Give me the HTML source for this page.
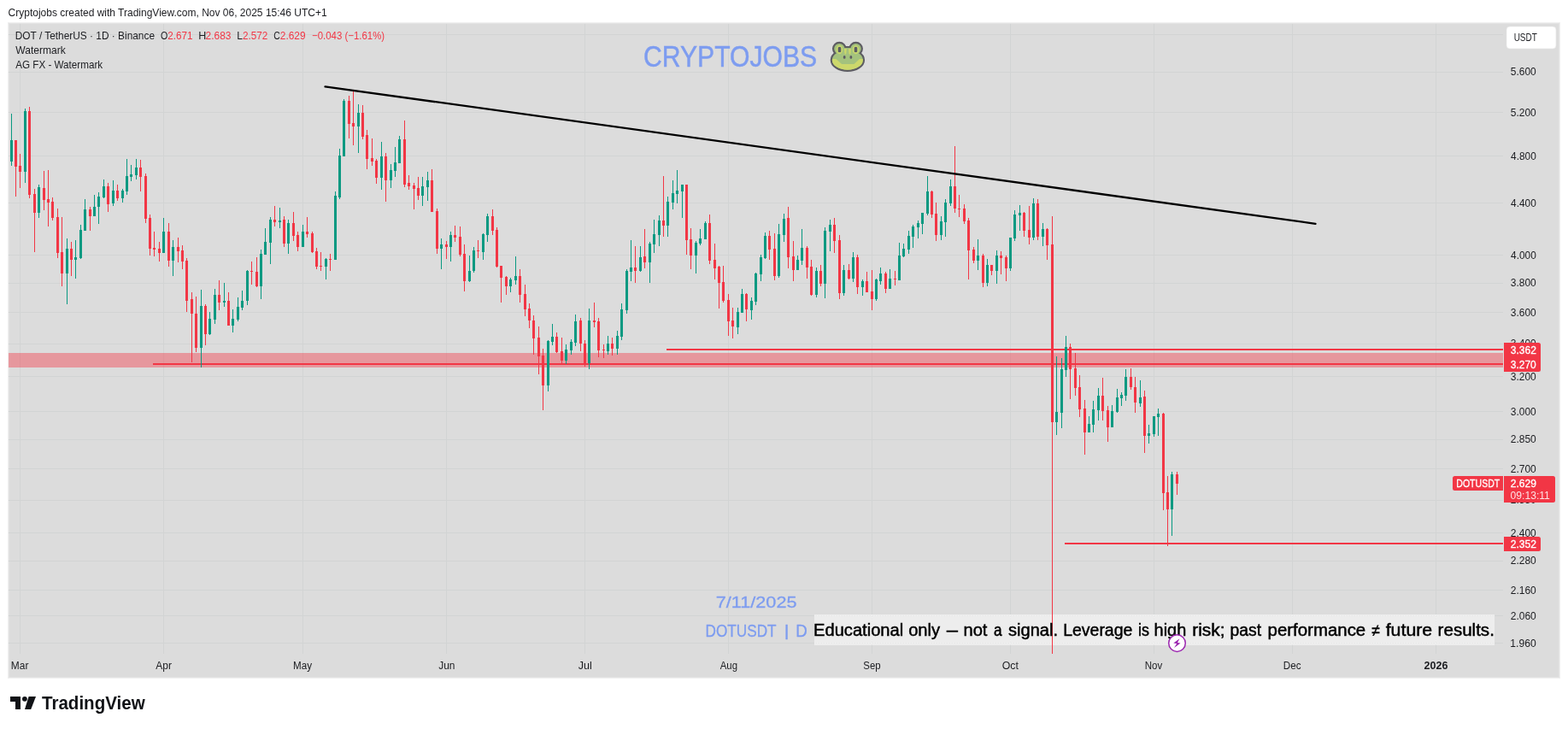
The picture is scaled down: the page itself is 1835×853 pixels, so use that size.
<!DOCTYPE html>
<html lang="en"><head><meta charset="utf-8"><title>DOT / TetherUS chart</title>
<style>
html,body{margin:0;padding:0;background:#fff;}
body{width:1835px;height:853px;overflow:hidden;position:relative;font-family:"Liberation Sans","DejaVu Sans",sans-serif;}
svg{position:absolute;left:0;top:0;display:block;}
text{font-family:"Liberation Sans","DejaVu Sans",sans-serif;white-space:pre;}
</style></head><body>
<svg width="1835" height="853" viewBox="0 0 1835 853">
<rect x="9" y="26" width="1817" height="768" fill="#efefef"/>
<rect x="10" y="27" width="1815" height="766" fill="#e3e3e3"/>
<rect x="11" y="28" width="1813" height="764" fill="#dcdcdc"/>
<g fill="#d2d4d4" shape-rendering="crispEdges">
<rect x="23" y="28" width="1" height="737"/>
<rect x="191" y="28" width="1" height="737"/>
<rect x="354" y="28" width="1" height="737"/>
<rect x="522" y="28" width="1" height="737"/>
<rect x="684" y="28" width="1" height="737"/>
<rect x="852" y="28" width="1" height="737"/>
<rect x="1020" y="28" width="1" height="737"/>
<rect x="1182" y="28" width="1" height="737"/>
<rect x="1350" y="28" width="1" height="737"/>
<rect x="1512" y="28" width="1" height="737"/>
<rect x="1680" y="28" width="1" height="737"/>
<rect x="10" y="40" width="1749" height="1"/>
<rect x="10" y="84" width="1749" height="1"/>
<rect x="10" y="131" width="1749" height="1"/>
<rect x="10" y="182" width="1749" height="1"/>
<rect x="10" y="237" width="1749" height="1"/>
<rect x="10" y="298" width="1749" height="1"/>
<rect x="10" y="331" width="1749" height="1"/>
<rect x="10" y="365" width="1749" height="1"/>
<rect x="10" y="402" width="1749" height="1"/>
<rect x="10" y="440" width="1749" height="1"/>
<rect x="10" y="481" width="1749" height="1"/>
<rect x="10" y="514" width="1749" height="1"/>
<rect x="10" y="548" width="1749" height="1"/>
<rect x="10" y="585" width="1749" height="1"/>
<rect x="10" y="623" width="1749" height="1"/>
<rect x="10" y="656" width="1749" height="1"/>
<rect x="10" y="690" width="1749" height="1"/>
<rect x="10" y="720" width="1749" height="1"/>
<rect x="10" y="752" width="1749" height="1"/>
</g>
<rect x="10" y="413" width="1749" height="17" fill="#f23645" fill-opacity="0.42" shape-rendering="crispEdges"/>
<g fill="#f23645" shape-rendering="crispEdges">
<rect x="780" y="408" width="979" height="2"/>
<rect x="179" y="425" width="1580" height="2"/>
<rect x="1246" y="635" width="513" height="2"/>
</g>
<text transform="translate(752.97,78.00) scale(0.8375,1)" font-size="36" fill="#7d9cf0" stroke="#7d9cf0" stroke-width="0.5">CRYPTOJOBS</text>
<g transform="translate(968,46) scale(0.048054)" role="img" aria-label="frog">
<defs><clipPath id="fc"><ellipse cx="497" cy="503" rx="374" ry="240"/></clipPath></defs>
<g fill="#5d5c62" stroke="#5d5c62" stroke-width="92" stroke-linejoin="round">
<circle cx="298" cy="230" r="128"/><circle cx="699" cy="230" r="128"/>
<rect x="300" y="210" width="397" height="200"/>
<ellipse cx="497" cy="503" rx="374" ry="240"/>
</g>
<g fill="#a4c27d">
<circle cx="298" cy="230" r="128"/><circle cx="699" cy="230" r="128"/>
<rect x="300" y="210" width="397" height="200"/>
<ellipse cx="497" cy="503" rx="374" ry="240"/>
</g>
<path d="M100 480 L215 480 L355 602 L655 602 L790 480 L900 480 L900 760 L100 760 Z" fill="#cdd86b" clip-path="url(#fc)"/>
<g fill="none" stroke="#cdd86b" stroke-width="30">
<ellipse cx="302" cy="252" rx="64" ry="90"/><ellipse cx="697" cy="252" rx="64" ry="90"/>
</g>
<g fill="#5d5c62">
<rect x="268" y="188" width="68" height="126" rx="20"/><rect x="663" y="188" width="68" height="126" rx="20"/>
<ellipse cx="420" cy="436" rx="30" ry="40"/>
<ellipse cx="580" cy="436" rx="30" ry="40"/>
</g>
<g fill="#cdd86b">
<path d="M416 230 L474 230 L464 345 L440 375 L426 345 Z"/>
<path d="M523 230 L579 230 L572 345 L548 375 L531 345 Z"/>
</g>
</g>

<text transform="translate(837.79,710.80) scale(1.1644,1)" font-size="18.6" fill="#7d9cf0" stroke="#7d9cf0" stroke-width="0.3">7/11/2025</text>
<text transform="translate(825.49,744.70) scale(0.8775,1)" font-size="19.6" fill="#7d9cf0" stroke="#7d9cf0" stroke-width="0.3">DOTUSDT</text>
<text transform="translate(917.83,744.30) scale(1.1844,1)" font-size="18.6" fill="#7d9cf0" stroke="#7d9cf0" stroke-width="0.3">|</text>
<text transform="translate(931.16,744.70) scale(0.9560,1)" font-size="19.6" fill="#7d9cf0" stroke="#7d9cf0" stroke-width="0.3">D</text>
<rect x="953" y="719" width="796" height="36" fill="#fff" fill-opacity="0.48"/>
<g stroke="#f1f1f1" stroke-width="1" stroke-dasharray="1.5 1.5" fill="none">
<path d="M953 720.5 H1749 M953 752.5 H1749"/>
<path d="M1020.5 719 V755"/>
<path d="M1182.5 719 V755"/>
<path d="M1350.5 719 V755"/>
<path d="M1512.5 719 V755"/>
<path d="M1680.5 719 V755"/>
</g>
<g fill="#089981" shape-rendering="crispEdges"><rect x="13" y="133" width="1" height="61"/><rect x="12" y="164" width="3" height="25"/><rect x="29" y="127" width="1" height="87"/><rect x="28" y="130" width="3" height="71"/><rect x="45" y="216" width="1" height="39"/><rect x="44" y="219" width="3" height="30"/><rect x="78" y="279" width="1" height="77"/><rect x="77" y="291" width="3" height="29"/><rect x="88" y="281" width="1" height="45"/><rect x="87" y="301" width="3" height="3"/><rect x="94" y="263" width="1" height="40"/><rect x="93" y="269" width="3" height="33"/><rect x="99" y="233" width="1" height="37"/><rect x="98" y="245" width="3" height="25"/><rect x="110" y="228" width="1" height="25"/><rect x="109" y="242" width="3" height="11"/><rect x="115" y="225" width="1" height="37"/><rect x="114" y="230" width="3" height="12"/><rect x="121" y="210" width="1" height="22"/><rect x="120" y="218" width="3" height="13"/><rect x="132" y="211" width="1" height="30"/><rect x="131" y="223" width="3" height="15"/><rect x="143" y="221" width="1" height="16"/><rect x="142" y="223" width="3" height="9"/><rect x="148" y="186" width="1" height="42"/><rect x="147" y="206" width="3" height="18"/><rect x="153" y="193" width="1" height="19"/><rect x="152" y="204" width="3" height="3"/><rect x="159" y="186" width="1" height="24"/><rect x="158" y="196" width="3" height="9"/><rect x="191" y="255" width="1" height="41"/><rect x="190" y="271" width="3" height="25"/><rect x="202" y="281" width="1" height="42"/><rect x="201" y="289" width="3" height="16"/><rect x="235" y="339" width="1" height="91"/><rect x="234" y="358" width="3" height="49"/><rect x="245" y="365" width="1" height="27"/><rect x="244" y="373" width="3" height="18"/><rect x="251" y="338" width="1" height="41"/><rect x="250" y="345" width="3" height="29"/><rect x="262" y="331" width="1" height="28"/><rect x="261" y="352" width="3" height="2"/><rect x="272" y="362" width="1" height="27"/><rect x="271" y="373" width="3" height="8"/><rect x="278" y="348" width="1" height="28"/><rect x="277" y="359" width="3" height="15"/><rect x="283" y="340" width="1" height="23"/><rect x="282" y="352" width="3" height="8"/><rect x="289" y="316" width="1" height="41"/><rect x="288" y="317" width="3" height="35"/><rect x="305" y="292" width="1" height="58"/><rect x="304" y="297" width="3" height="38"/><rect x="310" y="267" width="1" height="31"/><rect x="309" y="283" width="3" height="15"/><rect x="316" y="254" width="1" height="55"/><rect x="315" y="257" width="3" height="27"/><rect x="327" y="243" width="1" height="24"/><rect x="326" y="258" width="3" height="2"/><rect x="337" y="257" width="1" height="40"/><rect x="336" y="261" width="3" height="24"/><rect x="354" y="263" width="1" height="26"/><rect x="353" y="271" width="3" height="18"/><rect x="381" y="302" width="1" height="25"/><rect x="380" y="303" width="3" height="9"/><rect x="392" y="224" width="1" height="80"/><rect x="391" y="229" width="3" height="75"/><rect x="397" y="174" width="1" height="59"/><rect x="396" y="182" width="3" height="49"/><rect x="402" y="116" width="1" height="67"/><rect x="401" y="118" width="3" height="65"/><rect x="419" y="122" width="1" height="57"/><rect x="418" y="132" width="3" height="16"/><rect x="446" y="166" width="1" height="56"/><rect x="445" y="183" width="3" height="25"/><rect x="457" y="192" width="1" height="28"/><rect x="456" y="199" width="3" height="12"/><rect x="462" y="172" width="1" height="35"/><rect x="461" y="190" width="3" height="10"/><rect x="467" y="159" width="1" height="32"/><rect x="466" y="163" width="3" height="28"/><rect x="494" y="207" width="1" height="34"/><rect x="493" y="218" width="3" height="11"/><rect x="500" y="201" width="1" height="34"/><rect x="499" y="211" width="3" height="8"/><rect x="516" y="279" width="1" height="36"/><rect x="515" y="286" width="3" height="5"/><rect x="527" y="271" width="1" height="35"/><rect x="526" y="275" width="3" height="14"/><rect x="549" y="299" width="1" height="31"/><rect x="548" y="317" width="3" height="12"/><rect x="554" y="289" width="1" height="30"/><rect x="553" y="293" width="3" height="24"/><rect x="565" y="273" width="1" height="31"/><rect x="564" y="274" width="3" height="21"/><rect x="570" y="250" width="1" height="33"/><rect x="569" y="253" width="3" height="22"/><rect x="597" y="325" width="1" height="17"/><rect x="596" y="327" width="3" height="8"/><rect x="603" y="300" width="1" height="33"/><rect x="602" y="323" width="3" height="5"/><rect x="641" y="398" width="1" height="60"/><rect x="640" y="399" width="3" height="52"/><rect x="646" y="379" width="1" height="25"/><rect x="645" y="394" width="3" height="6"/><rect x="662" y="403" width="1" height="23"/><rect x="661" y="409" width="3" height="13"/><rect x="668" y="397" width="1" height="18"/><rect x="667" y="400" width="3" height="10"/><rect x="673" y="368" width="1" height="37"/><rect x="672" y="376" width="3" height="25"/><rect x="689" y="361" width="1" height="71"/><rect x="688" y="375" width="3" height="50"/><rect x="711" y="393" width="1" height="22"/><rect x="710" y="402" width="3" height="9"/><rect x="722" y="387" width="1" height="28"/><rect x="721" y="393" width="3" height="15"/><rect x="727" y="355" width="1" height="43"/><rect x="726" y="362" width="3" height="32"/><rect x="733" y="315" width="1" height="52"/><rect x="732" y="317" width="3" height="46"/><rect x="738" y="281" width="1" height="48"/><rect x="737" y="313" width="3" height="5"/><rect x="749" y="288" width="1" height="30"/><rect x="748" y="301" width="3" height="16"/><rect x="760" y="283" width="1" height="48"/><rect x="759" y="285" width="3" height="22"/><rect x="765" y="257" width="1" height="39"/><rect x="764" y="274" width="3" height="12"/><rect x="771" y="252" width="1" height="36"/><rect x="770" y="258" width="3" height="17"/><rect x="781" y="230" width="1" height="47"/><rect x="780" y="236" width="3" height="28"/><rect x="787" y="211" width="1" height="34"/><rect x="786" y="226" width="3" height="11"/><rect x="792" y="199" width="1" height="39"/><rect x="791" y="223" width="3" height="4"/><rect x="798" y="216" width="1" height="39"/><rect x="797" y="216" width="3" height="8"/><rect x="814" y="282" width="1" height="38"/><rect x="813" y="284" width="3" height="15"/><rect x="819" y="268" width="1" height="19"/><rect x="818" y="279" width="3" height="6"/><rect x="825" y="259" width="1" height="21"/><rect x="824" y="261" width="3" height="19"/><rect x="863" y="360" width="1" height="31"/><rect x="862" y="365" width="3" height="18"/><rect x="868" y="338" width="1" height="28"/><rect x="867" y="344" width="3" height="22"/><rect x="879" y="348" width="1" height="26"/><rect x="878" y="352" width="3" height="11"/><rect x="884" y="319" width="1" height="38"/><rect x="883" y="320" width="3" height="33"/><rect x="890" y="298" width="1" height="31"/><rect x="889" y="301" width="3" height="20"/><rect x="895" y="272" width="1" height="31"/><rect x="894" y="276" width="3" height="26"/><rect x="911" y="262" width="1" height="63"/><rect x="910" y="274" width="3" height="49"/><rect x="917" y="250" width="1" height="33"/><rect x="916" y="256" width="3" height="19"/><rect x="933" y="299" width="1" height="17"/><rect x="932" y="304" width="3" height="12"/><rect x="938" y="268" width="1" height="42"/><rect x="937" y="290" width="3" height="15"/><rect x="955" y="313" width="1" height="35"/><rect x="954" y="317" width="3" height="28"/><rect x="965" y="266" width="1" height="83"/><rect x="964" y="270" width="3" height="62"/><rect x="971" y="257" width="1" height="37"/><rect x="970" y="263" width="3" height="8"/><rect x="987" y="310" width="1" height="36"/><rect x="986" y="316" width="3" height="27"/><rect x="998" y="295" width="1" height="35"/><rect x="997" y="301" width="3" height="25"/><rect x="1009" y="327" width="1" height="19"/><rect x="1008" y="329" width="3" height="7"/><rect x="1025" y="326" width="1" height="26"/><rect x="1024" y="327" width="3" height="23"/><rect x="1030" y="313" width="1" height="20"/><rect x="1029" y="320" width="3" height="9"/><rect x="1041" y="315" width="1" height="23"/><rect x="1040" y="326" width="3" height="12"/><rect x="1052" y="284" width="1" height="44"/><rect x="1051" y="299" width="3" height="29"/><rect x="1057" y="285" width="1" height="16"/><rect x="1056" y="291" width="3" height="9"/><rect x="1063" y="270" width="1" height="27"/><rect x="1062" y="276" width="3" height="16"/><rect x="1068" y="263" width="1" height="27"/><rect x="1067" y="265" width="3" height="12"/><rect x="1074" y="258" width="1" height="21"/><rect x="1073" y="261" width="3" height="5"/><rect x="1079" y="249" width="1" height="25"/><rect x="1078" y="249" width="3" height="13"/><rect x="1085" y="206" width="1" height="46"/><rect x="1084" y="224" width="3" height="26"/><rect x="1101" y="253" width="1" height="28"/><rect x="1100" y="259" width="3" height="16"/><rect x="1106" y="233" width="1" height="44"/><rect x="1105" y="237" width="3" height="23"/><rect x="1112" y="210" width="1" height="31"/><rect x="1111" y="218" width="3" height="20"/><rect x="1144" y="280" width="1" height="36"/><rect x="1143" y="299" width="3" height="6"/><rect x="1155" y="303" width="1" height="32"/><rect x="1154" y="310" width="3" height="21"/><rect x="1166" y="293" width="1" height="39"/><rect x="1165" y="299" width="3" height="18"/><rect x="1182" y="278" width="1" height="39"/><rect x="1181" y="278" width="3" height="36"/><rect x="1187" y="246" width="1" height="36"/><rect x="1186" y="251" width="3" height="28"/><rect x="1193" y="240" width="1" height="30"/><rect x="1192" y="249" width="3" height="3"/><rect x="1209" y="232" width="1" height="49"/><rect x="1208" y="238" width="3" height="40"/><rect x="1220" y="261" width="1" height="27"/><rect x="1219" y="268" width="3" height="9"/><rect x="1236" y="417" width="1" height="92"/><rect x="1235" y="482" width="3" height="12"/><rect x="1242" y="419" width="1" height="82"/><rect x="1241" y="432" width="3" height="51"/><rect x="1247" y="393" width="1" height="48"/><rect x="1246" y="406" width="3" height="27"/><rect x="1274" y="487" width="1" height="19"/><rect x="1273" y="496" width="3" height="10"/><rect x="1279" y="469" width="1" height="37"/><rect x="1278" y="479" width="3" height="18"/><rect x="1285" y="454" width="1" height="38"/><rect x="1284" y="463" width="3" height="17"/><rect x="1301" y="474" width="1" height="26"/><rect x="1300" y="481" width="3" height="19"/><rect x="1307" y="455" width="1" height="28"/><rect x="1306" y="465" width="3" height="17"/><rect x="1312" y="459" width="1" height="16"/><rect x="1311" y="462" width="3" height="4"/><rect x="1317" y="432" width="1" height="37"/><rect x="1316" y="441" width="3" height="22"/><rect x="1334" y="445" width="1" height="31"/><rect x="1333" y="465" width="3" height="7"/><rect x="1344" y="497" width="1" height="22"/><rect x="1343" y="507" width="3" height="3"/><rect x="1350" y="487" width="1" height="24"/><rect x="1349" y="487" width="3" height="21"/><rect x="1355" y="478" width="1" height="32"/><rect x="1354" y="484" width="3" height="4"/><rect x="1371" y="552" width="1" height="75"/><rect x="1370" y="555" width="3" height="41"/></g>
<g fill="#f23645" shape-rendering="crispEdges"><rect x="18" y="164" width="1" height="66"/><rect x="17" y="164" width="3" height="31"/><rect x="23" y="180" width="1" height="40"/><rect x="22" y="194" width="3" height="7"/><rect x="34" y="125" width="1" height="107"/><rect x="33" y="130" width="3" height="98"/><rect x="40" y="221" width="1" height="74"/><rect x="39" y="227" width="3" height="22"/><rect x="51" y="200" width="1" height="46"/><rect x="50" y="220" width="3" height="14"/><rect x="56" y="199" width="1" height="66"/><rect x="55" y="233" width="3" height="4"/><rect x="61" y="231" width="1" height="27"/><rect x="60" y="236" width="3" height="19"/><rect x="67" y="244" width="1" height="58"/><rect x="66" y="254" width="3" height="42"/><rect x="72" y="254" width="1" height="81"/><rect x="71" y="295" width="3" height="25"/><rect x="83" y="283" width="1" height="40"/><rect x="82" y="291" width="3" height="13"/><rect x="105" y="242" width="1" height="28"/><rect x="104" y="245" width="3" height="8"/><rect x="126" y="214" width="1" height="34"/><rect x="125" y="218" width="3" height="21"/><rect x="137" y="216" width="1" height="19"/><rect x="136" y="223" width="3" height="9"/><rect x="164" y="187" width="1" height="37"/><rect x="163" y="196" width="3" height="11"/><rect x="170" y="203" width="1" height="58"/><rect x="169" y="206" width="3" height="50"/><rect x="175" y="251" width="1" height="48"/><rect x="174" y="255" width="3" height="36"/><rect x="180" y="271" width="1" height="29"/><rect x="179" y="290" width="3" height="2"/><rect x="186" y="283" width="1" height="23"/><rect x="185" y="291" width="3" height="5"/><rect x="197" y="261" width="1" height="51"/><rect x="196" y="271" width="3" height="34"/><rect x="208" y="278" width="1" height="29"/><rect x="207" y="289" width="3" height="5"/><rect x="213" y="287" width="1" height="28"/><rect x="212" y="293" width="3" height="13"/><rect x="218" y="302" width="1" height="63"/><rect x="217" y="305" width="3" height="47"/><rect x="224" y="342" width="1" height="82"/><rect x="223" y="350" width="3" height="17"/><rect x="229" y="347" width="1" height="65"/><rect x="228" y="367" width="3" height="40"/><rect x="240" y="356" width="1" height="48"/><rect x="239" y="358" width="3" height="33"/><rect x="256" y="328" width="1" height="35"/><rect x="255" y="345" width="3" height="9"/><rect x="267" y="342" width="1" height="39"/><rect x="266" y="352" width="3" height="29"/><rect x="294" y="306" width="1" height="27"/><rect x="293" y="317" width="3" height="1"/><rect x="300" y="301" width="1" height="35"/><rect x="299" y="318" width="3" height="17"/><rect x="321" y="241" width="1" height="24"/><rect x="320" y="257" width="3" height="3"/><rect x="332" y="253" width="1" height="36"/><rect x="331" y="257" width="3" height="28"/><rect x="343" y="248" width="1" height="34"/><rect x="342" y="261" width="3" height="15"/><rect x="348" y="271" width="1" height="23"/><rect x="347" y="275" width="3" height="14"/><rect x="359" y="254" width="1" height="24"/><rect x="358" y="271" width="3" height="3"/><rect x="365" y="271" width="1" height="25"/><rect x="364" y="273" width="3" height="22"/><rect x="370" y="290" width="1" height="25"/><rect x="369" y="294" width="3" height="18"/><rect x="375" y="295" width="1" height="22"/><rect x="374" y="311" width="3" height="1"/><rect x="386" y="297" width="1" height="20"/><rect x="385" y="303" width="3" height="1"/><rect x="408" y="112" width="1" height="50"/><rect x="407" y="118" width="3" height="27"/><rect x="413" y="107" width="1" height="63"/><rect x="412" y="144" width="3" height="4"/><rect x="424" y="123" width="1" height="40"/><rect x="423" y="132" width="3" height="28"/><rect x="429" y="152" width="1" height="46"/><rect x="428" y="158" width="3" height="28"/><rect x="435" y="162" width="1" height="32"/><rect x="434" y="185" width="3" height="4"/><rect x="440" y="186" width="1" height="29"/><rect x="439" y="188" width="3" height="20"/><rect x="451" y="179" width="1" height="57"/><rect x="450" y="183" width="3" height="28"/><rect x="473" y="141" width="1" height="78"/><rect x="472" y="163" width="3" height="53"/><rect x="478" y="205" width="1" height="17"/><rect x="477" y="214" width="3" height="4"/><rect x="484" y="214" width="1" height="31"/><rect x="483" y="217" width="3" height="4"/><rect x="489" y="207" width="1" height="27"/><rect x="488" y="220" width="3" height="9"/><rect x="505" y="198" width="1" height="50"/><rect x="504" y="211" width="3" height="37"/><rect x="511" y="244" width="1" height="53"/><rect x="510" y="247" width="3" height="44"/><rect x="522" y="282" width="1" height="21"/><rect x="521" y="286" width="3" height="3"/><rect x="532" y="264" width="1" height="19"/><rect x="531" y="275" width="3" height="3"/><rect x="538" y="265" width="1" height="35"/><rect x="537" y="277" width="3" height="21"/><rect x="543" y="286" width="1" height="55"/><rect x="542" y="297" width="3" height="32"/><rect x="559" y="281" width="1" height="21"/><rect x="558" y="293" width="3" height="1"/><rect x="576" y="245" width="1" height="30"/><rect x="575" y="253" width="3" height="17"/><rect x="581" y="266" width="1" height="47"/><rect x="580" y="269" width="3" height="43"/><rect x="586" y="311" width="1" height="43"/><rect x="585" y="311" width="3" height="14"/><rect x="592" y="323" width="1" height="22"/><rect x="591" y="324" width="3" height="11"/><rect x="608" y="315" width="1" height="39"/><rect x="607" y="323" width="3" height="22"/><rect x="614" y="333" width="1" height="37"/><rect x="613" y="344" width="3" height="18"/><rect x="619" y="355" width="1" height="29"/><rect x="618" y="361" width="3" height="14"/><rect x="624" y="369" width="1" height="46"/><rect x="623" y="375" width="3" height="21"/><rect x="630" y="382" width="1" height="56"/><rect x="629" y="395" width="3" height="22"/><rect x="635" y="408" width="1" height="72"/><rect x="634" y="416" width="3" height="35"/><rect x="651" y="389" width="1" height="24"/><rect x="650" y="394" width="3" height="18"/><rect x="657" y="395" width="1" height="30"/><rect x="656" y="411" width="3" height="11"/><rect x="679" y="372" width="1" height="39"/><rect x="678" y="375" width="3" height="27"/><rect x="684" y="398" width="1" height="31"/><rect x="683" y="402" width="3" height="24"/><rect x="695" y="354" width="1" height="29"/><rect x="694" y="375" width="3" height="2"/><rect x="700" y="372" width="1" height="46"/><rect x="699" y="376" width="3" height="34"/><rect x="706" y="403" width="1" height="16"/><rect x="705" y="409" width="3" height="1"/><rect x="716" y="395" width="1" height="21"/><rect x="715" y="402" width="3" height="6"/><rect x="743" y="288" width="1" height="43"/><rect x="742" y="313" width="3" height="4"/><rect x="754" y="268" width="1" height="46"/><rect x="753" y="300" width="3" height="7"/><rect x="776" y="206" width="1" height="71"/><rect x="775" y="258" width="3" height="6"/><rect x="803" y="216" width="1" height="82"/><rect x="802" y="216" width="3" height="65"/><rect x="808" y="267" width="1" height="48"/><rect x="807" y="280" width="3" height="19"/><rect x="830" y="251" width="1" height="58"/><rect x="829" y="261" width="3" height="44"/><rect x="836" y="285" width="1" height="42"/><rect x="835" y="304" width="3" height="10"/><rect x="841" y="311" width="1" height="50"/><rect x="840" y="312" width="3" height="19"/><rect x="846" y="311" width="1" height="43"/><rect x="845" y="330" width="3" height="22"/><rect x="852" y="344" width="1" height="49"/><rect x="851" y="351" width="3" height="25"/><rect x="857" y="360" width="1" height="36"/><rect x="856" y="375" width="3" height="7"/><rect x="873" y="343" width="1" height="33"/><rect x="872" y="344" width="3" height="18"/><rect x="900" y="270" width="1" height="34"/><rect x="899" y="276" width="3" height="16"/><rect x="906" y="273" width="1" height="55"/><rect x="905" y="291" width="3" height="32"/><rect x="922" y="242" width="1" height="72"/><rect x="921" y="255" width="3" height="46"/><rect x="928" y="282" width="1" height="47"/><rect x="927" y="300" width="3" height="16"/><rect x="944" y="288" width="1" height="38"/><rect x="943" y="290" width="3" height="23"/><rect x="949" y="304" width="1" height="42"/><rect x="948" y="312" width="3" height="33"/><rect x="960" y="310" width="1" height="25"/><rect x="959" y="317" width="3" height="15"/><rect x="976" y="255" width="1" height="41"/><rect x="975" y="263" width="3" height="19"/><rect x="982" y="275" width="1" height="75"/><rect x="981" y="281" width="3" height="62"/><rect x="993" y="309" width="1" height="18"/><rect x="992" y="316" width="3" height="10"/><rect x="1003" y="298" width="1" height="46"/><rect x="1002" y="301" width="3" height="35"/><rect x="1014" y="318" width="1" height="24"/><rect x="1013" y="329" width="3" height="13"/><rect x="1020" y="316" width="1" height="47"/><rect x="1019" y="341" width="3" height="9"/><rect x="1036" y="318" width="1" height="25"/><rect x="1035" y="320" width="3" height="18"/><rect x="1047" y="317" width="1" height="17"/><rect x="1046" y="326" width="3" height="1"/><rect x="1090" y="223" width="1" height="32"/><rect x="1089" y="224" width="3" height="27"/><rect x="1095" y="237" width="1" height="45"/><rect x="1094" y="250" width="3" height="25"/><rect x="1117" y="171" width="1" height="78"/><rect x="1116" y="218" width="3" height="26"/><rect x="1122" y="228" width="1" height="26"/><rect x="1121" y="244" width="3" height="1"/><rect x="1128" y="239" width="1" height="23"/><rect x="1127" y="244" width="3" height="15"/><rect x="1133" y="255" width="1" height="72"/><rect x="1132" y="258" width="3" height="35"/><rect x="1139" y="289" width="1" height="19"/><rect x="1138" y="292" width="3" height="13"/><rect x="1150" y="297" width="1" height="39"/><rect x="1149" y="299" width="3" height="32"/><rect x="1160" y="310" width="1" height="12"/><rect x="1159" y="310" width="3" height="7"/><rect x="1171" y="294" width="1" height="27"/><rect x="1170" y="299" width="3" height="3"/><rect x="1177" y="299" width="1" height="30"/><rect x="1176" y="301" width="3" height="13"/><rect x="1198" y="248" width="1" height="29"/><rect x="1197" y="249" width="3" height="21"/><rect x="1204" y="241" width="1" height="45"/><rect x="1203" y="269" width="3" height="9"/><rect x="1214" y="233" width="1" height="48"/><rect x="1213" y="238" width="3" height="39"/><rect x="1225" y="267" width="1" height="37"/><rect x="1224" y="268" width="3" height="19"/><rect x="1231" y="253" width="1" height="512"/><rect x="1230" y="286" width="3" height="208"/><rect x="1252" y="402" width="1" height="65"/><rect x="1251" y="406" width="3" height="26"/><rect x="1258" y="413" width="1" height="50"/><rect x="1257" y="431" width="3" height="23"/><rect x="1263" y="439" width="1" height="49"/><rect x="1262" y="453" width="3" height="26"/><rect x="1269" y="468" width="1" height="64"/><rect x="1268" y="478" width="3" height="28"/><rect x="1290" y="442" width="1" height="50"/><rect x="1289" y="463" width="3" height="18"/><rect x="1296" y="475" width="1" height="42"/><rect x="1295" y="480" width="3" height="20"/><rect x="1323" y="431" width="1" height="25"/><rect x="1322" y="441" width="3" height="12"/><rect x="1328" y="441" width="1" height="42"/><rect x="1327" y="453" width="3" height="18"/><rect x="1339" y="457" width="1" height="73"/><rect x="1338" y="464" width="3" height="46"/><rect x="1361" y="483" width="1" height="114"/><rect x="1360" y="484" width="3" height="93"/><rect x="1366" y="557" width="1" height="82"/><rect x="1365" y="576" width="3" height="20"/><rect x="1377" y="552" width="1" height="27"/><rect x="1376" y="555" width="3" height="11"/></g>

<line x1="380.5" y1="101.3" x2="1539.5" y2="261.8" stroke="#000" stroke-width="2.3" stroke-linecap="round"/>
<text y="743.8" font-size="19.5" fill="#000" stroke="#000" stroke-width="0.45"><tspan x="952.05" textLength="105.20" lengthAdjust="spacingAndGlyphs">Educational</tspan> <tspan x="1063.15" textLength="36.99" lengthAdjust="spacingAndGlyphs">only</tspan> <tspan x="1107.70" textLength="13.30" lengthAdjust="spacingAndGlyphs">—</tspan> <tspan x="1127.46" textLength="27.98" lengthAdjust="spacingAndGlyphs">not</tspan> <tspan x="1163.07" textLength="9.53" lengthAdjust="spacingAndGlyphs">a</tspan> <tspan x="1180.04" textLength="57.99" lengthAdjust="spacingAndGlyphs">signal.</tspan> <tspan x="1244.20" textLength="81.16" lengthAdjust="spacingAndGlyphs">Leverage</tspan> <tspan x="1332.10" textLength="12.95" lengthAdjust="spacingAndGlyphs">is</tspan> <tspan x="1350.62" textLength="37.68" lengthAdjust="spacingAndGlyphs">high</tspan> <tspan x="1395.21" textLength="38.37" lengthAdjust="spacingAndGlyphs">risk;</tspan> <tspan x="1439.55" textLength="36.59" lengthAdjust="spacingAndGlyphs">past</tspan> <tspan x="1483.58" textLength="114.62" lengthAdjust="spacingAndGlyphs">performance</tspan> <tspan x="1605.25" textLength="9.49" lengthAdjust="spacingAndGlyphs">≠</tspan> <tspan x="1621.70" textLength="54.55" lengthAdjust="spacingAndGlyphs">future</tspan> <tspan x="1682.64" textLength="66.24" lengthAdjust="spacingAndGlyphs">results.</tspan></text>
<g><circle cx="1377.5" cy="752.6" r="9.8" fill="#fff" stroke="#9c27b0" stroke-width="1.5"/>
<path d="M1380.45 747.26 L1373.28 752.41 L1377.17 753.07 L1374.12 757.99 L1381.48 752.41 L1378.02 751.94 Z" fill="#9c27b0"/></g>
<text transform="translate(17.72,45.80) scale(0.9510,1)" font-size="12.5" fill="#1b1c20">DOT / TetherUS · 1D · Binance</text>
<text transform="translate(187.99,45.80) scale(0.8544,1)" font-size="12.5" fill="#1b1c20">O</text>
<text transform="translate(196.31,45.80) scale(0.9353,1)" font-size="12.5" fill="#f23645">2.671</text>
<text transform="translate(232.17,45.80) scale(1.0019,1)" font-size="12.5" fill="#1b1c20">H</text>
<text transform="translate(240.60,45.80) scale(0.9567,1)" font-size="12.5" fill="#f23645">2.683</text>
<text transform="translate(277.31,45.80) scale(0.9614,1)" font-size="12.5" fill="#1b1c20">L</text>
<text transform="translate(284.01,45.80) scale(0.9393,1)" font-size="12.5" fill="#f23645">2.572</text>
<text transform="translate(320.27,45.80) scale(0.8333,1)" font-size="12.5" fill="#1b1c20">C</text>
<text transform="translate(327.80,45.80) scale(0.9514,1)" font-size="12.5" fill="#f23645">2.629</text>
<text transform="translate(365.04,45.80) scale(0.9135,1)" font-size="12.5" fill="#f23645">−0.043 (−1.61%)</text>
<text transform="translate(18.25,62.60) scale(0.9667,1)" font-size="12.5" fill="#1b1c20">Watermark</text>
<text transform="translate(18.18,79.80) scale(0.9345,1)" font-size="12.5" fill="#1b1c20">AG FX - Watermark</text>
<text transform="translate(9.59,19.10) scale(0.9605,1)" font-size="12.5" fill="#1b1c20">Cryptojobs created with TradingView.com, Nov 06, 2025 15:46 UTC+1</text>
<text transform="translate(1767.82,87.90) scale(0.9573,1)" font-size="12.5" fill="#1b1c20">5.600</text>
<text transform="translate(1767.82,135.90) scale(0.9573,1)" font-size="12.5" fill="#1b1c20">5.200</text>
<text transform="translate(1768.03,186.90) scale(0.9506,1)" font-size="12.5" fill="#1b1c20">4.800</text>
<text transform="translate(1768.03,241.90) scale(0.9506,1)" font-size="12.5" fill="#1b1c20">4.400</text>
<text transform="translate(1768.03,302.90) scale(0.9506,1)" font-size="12.5" fill="#1b1c20">4.000</text>
<text transform="translate(1767.84,334.90) scale(0.9566,1)" font-size="12.5" fill="#1b1c20">3.800</text>
<text transform="translate(1767.84,369.90) scale(0.9566,1)" font-size="12.5" fill="#1b1c20">3.600</text>
<text transform="translate(1767.84,405.90) scale(0.9566,1)" font-size="12.5" fill="#1b1c20">3.400</text>
<text transform="translate(1767.84,444.90) scale(0.9566,1)" font-size="12.5" fill="#1b1c20">3.200</text>
<text transform="translate(1767.84,485.90) scale(0.9566,1)" font-size="12.5" fill="#1b1c20">3.000</text>
<text transform="translate(1767.70,517.90) scale(0.9614,1)" font-size="12.5" fill="#1b1c20">2.850</text>
<text transform="translate(1767.70,552.90) scale(0.9614,1)" font-size="12.5" fill="#1b1c20">2.700</text>
<text transform="translate(1767.70,588.90) scale(0.9614,1)" font-size="12.5" fill="#1b1c20">2.550</text>
<text transform="translate(1767.70,627.90) scale(0.9614,1)" font-size="12.5" fill="#1b1c20">2.400</text>
<text transform="translate(1767.70,659.90) scale(0.9614,1)" font-size="12.5" fill="#1b1c20">2.280</text>
<text transform="translate(1767.70,694.90) scale(0.9614,1)" font-size="12.5" fill="#1b1c20">2.160</text>
<text transform="translate(1767.70,724.90) scale(0.9614,1)" font-size="12.5" fill="#1b1c20">2.060</text>
<text transform="translate(1767.37,756.90) scale(0.9718,1)" font-size="12.5" fill="#1b1c20">1.960</text>
<rect x="1763" y="31" width="58" height="26" rx="4" ry="4" fill="#fff" stroke="#e6e6e6" stroke-width="0.6"/>
<text transform="translate(1771.63,48.30) scale(0.7993,1)" font-size="12.5" fill="#1b1c20">USDT</text>
<path d="M1760 401 H1800.5 Q1803 401 1803 403.5 V432.5 Q1803 435 1800.5 435 H1760 Z" fill="#f23645"/>
<text transform="translate(1767.84,413.90) scale(0.9610,1)" font-size="12.5" fill="#fff" stroke="#fff" stroke-width="0.3">3.362</text>
<text transform="translate(1767.84,430.90) scale(0.9566,1)" font-size="12.5" fill="#fff" stroke="#fff" stroke-width="0.3">3.270</text>
<path d="M1760 628 H1800.5 Q1803 628 1803 630.5 V642.5 Q1803 645 1800.5 645 H1760 Z" fill="#f23645"/>
<text transform="translate(1767.69,640.90) scale(0.9659,1)" font-size="12.5" fill="#fff" stroke="#fff" stroke-width="0.3">2.352</text>
<path d="M1759 557 H1702.5 Q1700 557 1700 559.5 V571.5 Q1700 574 1702.5 574 H1759 Z" fill="#f23645"/>
<text transform="translate(1704.34,569.90) scale(0.8425,1)" font-size="12.5" fill="#fff" stroke="#fff" stroke-width="0.3">DOTUSDT</text>
<path d="M1760 557 H1817.5 Q1820 557 1820 559.5 V585.5 Q1820 588 1817.5 588 H1760 Z" fill="#f23645"/>
<text transform="translate(1767.69,569.90) scale(0.9647,1)" font-size="12.5" fill="#fff" stroke="#fff" stroke-width="0.3">2.629</text>
<text transform="translate(1767.53,583.70) scale(0.9714,1)" font-size="12.5" fill="#fff" fill-opacity="0.85">09:13:11</text>
<text transform="translate(12.82,782.80) scale(0.9557,1)" font-size="12.5" fill="#1b1c20">Mar</text>
<text transform="translate(182.28,782.80) scale(0.9573,1)" font-size="12.5" fill="#1b1c20">Apr</text>
<text transform="translate(343.05,782.80) scale(0.9302,1)" font-size="12.5" fill="#1b1c20">May</text>
<text transform="translate(513.16,782.80) scale(0.9557,1)" font-size="12.5" fill="#1b1c20">Jun</text>
<text transform="translate(676.80,782.80) scale(1.0032,1)" font-size="12.5" fill="#1b1c20">Jul</text>
<text transform="translate(842.73,782.80) scale(0.9104,1)" font-size="12.5" fill="#1b1c20">Aug</text>
<text transform="translate(1010.33,782.80) scale(0.9122,1)" font-size="12.5" fill="#1b1c20">Sep</text>
<text transform="translate(1172.67,782.80) scale(0.9856,1)" font-size="12.5" fill="#1b1c20">Oct</text>
<text transform="translate(1339.81,782.80) scale(0.9213,1)" font-size="12.5" fill="#1b1c20">Nov</text>
<text transform="translate(1501.79,782.80) scale(0.9339,1)" font-size="12.5" fill="#1b1c20">Dec</text>
<text transform="translate(1666.57,782.80) scale(1.0027,1)" font-size="12.5" fill="#1b1c20" font-weight="bold">2026</text>
<g fill="#101216">
<path d="M12 815 H24 V830 H18 V821 H12 Z"/>
<circle cx="28.9" cy="817.8" r="2.9"/>
<path d="M33.6 815 H42 L36.2 830 H29 Z"/>
</g>
<text transform="translate(48.97,829.90) scale(0.9658,1)" font-size="21.3" fill="#101216" font-weight="bold">TradingView</text>
</svg>
</body></html>
